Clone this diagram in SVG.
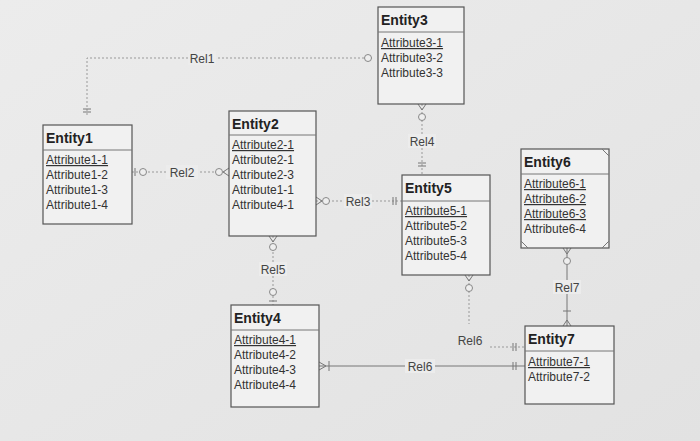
<svg xmlns="http://www.w3.org/2000/svg" width="700" height="441" viewBox="0 0 700 441">
<defs>
<linearGradient id="bg" x1="0" y1="0" x2="1" y2="1"><stop offset="0" stop-color="#ececec"/><stop offset="1" stop-color="#e2e2e2"/></linearGradient>
</defs>
<style>
.box{fill:#f1f1f1;stroke:#555;stroke-width:1.2}
.hd{font:bold 14px "Liberation Sans",Arial,sans-serif;fill:#222}
.at{font:12px "Liberation Sans",Arial,sans-serif;fill:#333}
.u{text-decoration:underline}
.lb{font:12px "Liberation Sans",Arial,sans-serif;fill:#444;text-anchor:middle}
.dl{stroke:#999;stroke-width:1;stroke-dasharray:2 2;fill:none}
.sl{stroke:#777;stroke-width:1;fill:none}
.ci{fill:#eee;stroke:#888;stroke-width:1}
.bg{fill:#ececec}
</style>
<rect width="700" height="441" fill="url(#bg)"/>
<g id="connectors">
<path class="dl" d="M87,115 V58 H372"/><circle class="ci" cx="368" cy="58" r="3.5"/><path class="sl" d="M83,109 H91 M83,112 H91"/>
<rect class="bg" x="188" y="51" width="28" height="14"/><text class="lb" x="202" y="63">Rel1</text>
<path class="dl" d="M132,172 H225"/><path class="sl" d="M135,168 V176"/><circle class="ci" cx="143" cy="172" r="3.5"/><circle class="ci" cx="219" cy="172" r="3.5"/><path class="sl" d="M223,172 L229,168 M223,172 L229,176"/>
<rect class="bg" x="166" y="165" width="32" height="14"/><text class="lb" x="182" y="177">Rel2</text>
<path class="dl" d="M316,201 H402"/><path class="sl" d="M316,197 L322,201 L316,205"/><circle class="ci" cx="326" cy="201" r="3.5"/><path class="sl" d="M393,197 V205 M396,197 V205"/>
<rect class="bg" x="344" y="194" width="28" height="14"/><text class="lb" x="358" y="206">Rel3</text>
<path class="dl" d="M422,104 V175"/><path class="sl" d="M418,104 L422,110 L426,104"/><circle class="ci" cx="422" cy="117" r="3.5"/><path class="sl" d="M418,163 H426 M418,166 H426"/>
<rect class="bg" x="408" y="134" width="28" height="14"/><text class="lb" x="422" y="146">Rel4</text>
<path class="dl" d="M273,236 V305"/><path class="sl" d="M269,236 L273,242 L277,236 M269,301 H277"/><circle class="ci" cx="273" cy="247" r="3.5"/><circle class="ci" cx="273" cy="292" r="3.5"/>
<rect class="bg" x="259" y="262" width="28" height="14"/><text class="lb" x="273" y="274">Rel5</text>
<path class="dl" d="M469,275 V324 M490,347 H525"/><path class="sl" d="M465,275 L469,281 L473,275 M513,343 V351 M516,343 V351"/><circle class="ci" cx="469" cy="288" r="3.5"/>
<text class="lb" x="470" y="345">Rel6</text>
<path class="sl" d="M319,366 H525"/><path class="sl" d="M319,362 L326,366 L319,370 M329,361 V371 M513,362 V370 M516,362 V370"/>
<rect class="bg" x="405" y="359" width="30" height="14"/><text class="lb" x="420" y="371">Rel6</text>
<path class="sl" d="M567,248 V326"/><path class="sl" d="M563,248 L567,254 L571,248 M563,311 H571 M563,326 L567,320 L571,326"/><circle class="ci" cx="567" cy="261" r="3.5"/>
<rect class="bg" x="553" y="280" width="28" height="14"/><text class="lb" x="567" y="292">Rel7</text>
</g>
<g id="entity1"><rect class="box" x="43" y="125" width="89" height="99"/><line class="sl" x1="43" y1="150" x2="132" y2="150"/><text class="hd" x="46" y="143">Entity1</text>
<text class="at" x="46" y="164"><tspan class="u">Attribute1-1</tspan><tspan x="46" dy="15">Attribute1-2</tspan><tspan x="46" dy="15">Attribute1-3</tspan><tspan x="46" dy="15">Attribute1-4</tspan></text></g>
<g id="entity2"><rect class="box" x="229" y="111" width="87" height="125"/><line class="sl" x1="229" y1="135" x2="316" y2="135"/><text class="hd" x="232" y="129">Entity2</text>
<text class="at" x="232" y="149"><tspan class="u">Attribute2-1</tspan><tspan x="232" dy="15">Attribute2-1</tspan><tspan x="232" dy="15">Attribute2-3</tspan><tspan x="232" dy="15">Attribute1-1</tspan><tspan x="232" dy="15">Attribute4-1</tspan></text></g>
<g id="entity3"><rect class="box" x="378" y="7" width="86" height="97"/><line class="sl" x1="378" y1="32" x2="464" y2="32"/><text class="hd" x="381" y="25">Entity3</text>
<text class="at" x="381" y="47"><tspan class="u">Attribute3-1</tspan><tspan x="381" dy="15">Attribute3-2</tspan><tspan x="381" dy="15">Attribute3-3</tspan></text></g>
<g id="entity4"><rect class="box" x="231" y="305" width="88" height="102"/><line class="sl" x1="231" y1="330" x2="319" y2="330"/><text class="hd" x="234" y="323">Entity4</text>
<text class="at" x="234" y="344"><tspan class="u">Attribute4-1</tspan><tspan x="234" dy="15">Attribute4-2</tspan><tspan x="234" dy="15">Attribute4-3</tspan><tspan x="234" dy="15">Attribute4-4</tspan></text></g>
<g id="entity5"><rect class="box" x="402" y="175" width="88" height="100"/><line class="sl" x1="402" y1="201" x2="490" y2="201"/><text class="hd" x="405" y="193">Entity5</text>
<text class="at" x="405" y="215"><tspan class="u">Attribute5-1</tspan><tspan x="405" dy="15">Attribute5-2</tspan><tspan x="405" dy="15">Attribute5-3</tspan><tspan x="405" dy="15">Attribute5-4</tspan></text></g>
<g id="entity6"><rect class="box" x="521" y="149" width="88" height="99"/><line class="sl" x1="521" y1="174" x2="609" y2="174"/><path class="sl" d="M602,149 L609,156 M521,241 L528,248 M602,248 L609,241"/><text class="hd" x="524" y="167">Entity6</text>
<text class="at" x="524" y="188"><tspan class="u">Attribute6-1</tspan><tspan class="u" x="524" dy="15">Attribute6-2</tspan><tspan class="u" x="524" dy="15">Attribute6-3</tspan><tspan x="524" dy="15">Attribute6-4</tspan></text></g>
<g id="entity7"><rect class="box" x="525" y="326" width="89" height="78"/><line class="sl" x1="525" y1="351" x2="614" y2="351"/><text class="hd" x="528" y="344">Entity7</text>
<text class="at" x="528" y="366"><tspan class="u">Attribute7-1</tspan><tspan x="528" dy="15">Attribute7-2</tspan></text></g>
</svg>
